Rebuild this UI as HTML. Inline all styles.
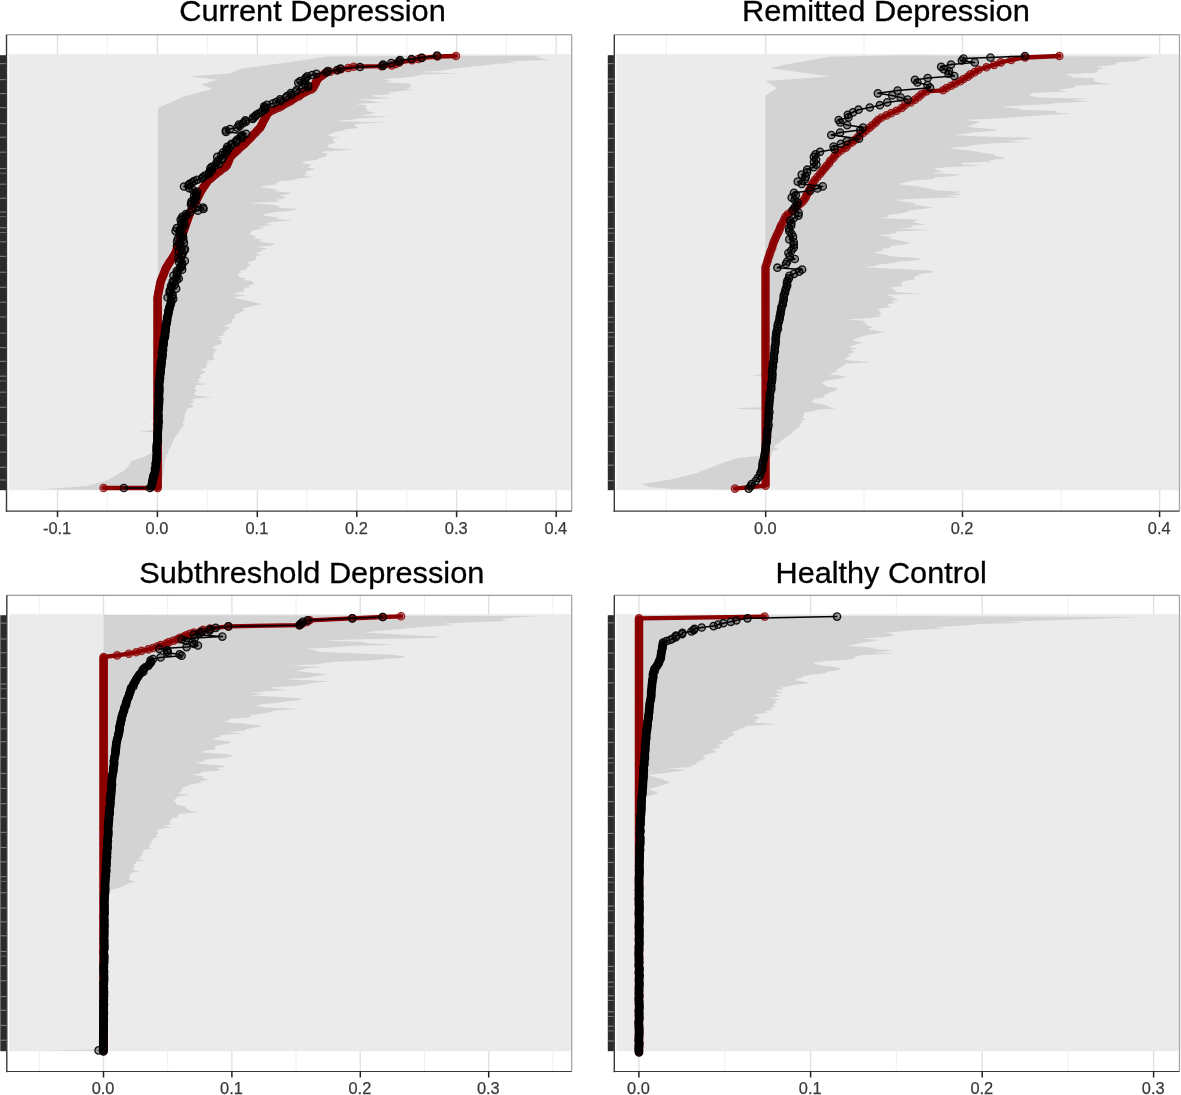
<!DOCTYPE html>
<html><head><meta charset="utf-8"><title>Depression groups</title>
<style>
html,body{margin:0;padding:0;background:#fff;}
svg{display:block;}
.tl{stroke:#3a3a3a;stroke-width:0.25px;font-family:"Liberation Sans",Arial,sans-serif;font-size:16.4px;fill:#3a3a3a;text-anchor:middle;}
.tt{stroke:#000;stroke-width:0.3px;font-family:"Liberation Sans",Arial,sans-serif;font-size:29.5px;fill:#000;}
</style></head><body>
<svg width="1181" height="1095" viewBox="0 0 1181 1095">
<defs>
<marker id="rd" markerUnits="userSpaceOnUse" markerWidth="10" markerHeight="10" refX="5" refY="5" viewBox="0 0 10 10"><circle cx="5" cy="5" r="3.7" fill="#8b0000" fill-opacity="0.5" stroke="#8b0000" stroke-width="1.2" stroke-opacity="0.8"/></marker>
<marker id="bd" markerUnits="userSpaceOnUse" markerWidth="10" markerHeight="10" refX="5" refY="5" viewBox="0 0 10 10"><circle cx="5" cy="5" r="3.7" fill="#000" fill-opacity="0.35" stroke="#000" stroke-width="1.3" stroke-opacity="0.9"/></marker>
</defs>
<rect width="1181" height="1095" fill="#fff"/>
<g><line x1="107.4" y1="34.7" x2="107.4" y2="511.1" stroke="#eeeeee" stroke-width="0.9"/><line x1="207.3" y1="34.7" x2="207.3" y2="511.1" stroke="#eeeeee" stroke-width="0.9"/><line x1="307.0" y1="34.7" x2="307.0" y2="511.1" stroke="#eeeeee" stroke-width="0.9"/><line x1="406.7" y1="34.7" x2="406.7" y2="511.1" stroke="#eeeeee" stroke-width="0.9"/><line x1="506.4" y1="34.7" x2="506.4" y2="511.1" stroke="#eeeeee" stroke-width="0.9"/><line x1="57.5" y1="34.7" x2="57.5" y2="511.1" stroke="#e1e1e1" stroke-width="1.4"/><line x1="157.4" y1="34.7" x2="157.4" y2="511.1" stroke="#e1e1e1" stroke-width="1.4"/><line x1="257.3" y1="34.7" x2="257.3" y2="511.1" stroke="#e1e1e1" stroke-width="1.4"/><line x1="356.8" y1="34.7" x2="356.8" y2="511.1" stroke="#e1e1e1" stroke-width="1.4"/><line x1="456.6" y1="34.7" x2="456.6" y2="511.1" stroke="#e1e1e1" stroke-width="1.4"/><line x1="556.2" y1="34.7" x2="556.2" y2="511.1" stroke="#e1e1e1" stroke-width="1.4"/><rect x="8.7" y="54.2" width="562.6" height="436.0" fill="#ebebeb"/><clipPath id="c0"><rect x="8.7" y="54.2" width="562.6" height="436.0"/></clipPath><polygon points="541.6,55.7 420.0,56.0 327.0,56.5 297.6,61.0 241.7,68.6 230.6,73.3 189.6,76.6 217.5,79.8 200.8,84.5 212.0,89.0 184.0,96.6 167.0,104.0 158.0,108.0 158.0,416.0 148.7,417.0 158.0,418.5 158.0,430.0 139.0,431.0 158.0,433.0 158.0,449.0 146.0,456.0 132.0,461.0 125.0,470.0 108.0,480.0 87.0,486.0 39.5,489.4 158.0,490.0 158.0,488.0 158.8,486.5 159.6,485.0 160.1,483.5 160.5,482.0 161.9,480.5 162.1,479.0 163.0,477.5 162.7,476.0 163.4,474.6 163.8,473.1 163.7,471.7 163.7,470.2 164.1,468.7 164.7,467.3 164.3,465.8 164.8,464.3 164.3,462.9 164.5,461.4 165.1,460.0 165.4,458.5 166.3,457.0 165.7,455.5 167.4,454.0 168.1,452.5 168.4,451.0 168.6,449.5 170.2,448.0 170.8,446.5 171.3,445.0 172.1,443.5 172.5,442.0 173.6,440.6 174.1,439.1 174.3,437.7 175.7,436.2 177.3,434.8 178.0,433.4 179.3,431.9 179.4,430.5 181.0,429.0 182.0,427.6 183.0,426.1 184.1,424.6 182.5,423.1 183.1,421.6 185.4,420.1 183.8,418.5 184.6,417.0 185.1,415.5 184.7,414.0 185.4,412.5 186.7,411.0 186.2,409.6 188.5,408.3 193.0,406.9 192.6,405.6 190.1,404.2 191.7,402.9 194.0,401.5 192.0,400.0 194.6,398.6 213.0,397.1 196.7,395.7 194.6,394.2 194.3,392.7 196.8,391.3 195.7,389.8 194.4,388.3 196.3,386.9 195.1,385.4 206.8,384.0 196.0,382.5 199.7,381.1 197.9,379.6 201.0,378.1 200.8,376.7 200.0,375.2 202.5,373.8 205.3,372.4 204.0,370.9 200.5,369.4 205.7,368.0 206.0,366.6 207.5,365.2 205.1,363.8 209.3,362.4 206.0,361.0 214.5,359.6 214.4,358.2 213.1,356.8 213.1,355.4 213.0,354.0 214.3,352.5 214.9,351.1 217.8,349.6 213.1,348.2 212.6,346.7 216.5,345.2 222.0,343.8 221.1,342.3 222.3,340.8 218.6,339.4 222.1,337.9 217.5,336.5 224.7,335.0 222.9,333.5 224.8,332.1 225.4,330.6 227.5,329.2 230.4,327.7 223.5,326.2 227.2,324.8 230.5,323.3 232.8,321.8 231.9,320.4 233.4,318.9 235.5,317.5 234.0,316.0 235.4,314.6 239.0,313.1 241.2,311.7 244.9,310.2 242.0,308.8 247.2,307.3 253.6,305.9 261.8,304.4 258.0,303.0 251.0,301.5 245.4,300.0 236.3,298.5 234.0,297.0 246.7,295.6 232.8,294.1 236.5,292.7 244.9,291.3 243.2,289.9 244.2,288.4 250.1,287.0 248.1,285.6 254.5,284.1 253.0,282.7 252.6,281.3 243.1,279.9 245.8,278.4 239.2,277.0 239.0,275.6 237.4,274.1 242.0,272.6 239.7,271.1 245.8,269.6 247.5,268.2 247.1,266.7 251.0,265.2 248.5,263.7 247.2,262.2 253.5,260.7 256.4,259.1 255.4,257.6 256.9,256.1 260.2,254.6 255.4,253.0 261.4,251.5 262.0,250.0 268.0,248.5 256.2,247.0 271.5,245.5 275.5,244.1 265.4,242.6 257.9,241.2 263.3,239.7 253.9,238.3 255.8,236.8 253.2,235.4 249.8,233.9 251.0,232.5 251.7,231.0 257.1,229.5 265.3,228.0 258.6,226.5 272.1,225.1 266.7,223.6 271.0,222.1 293.5,220.6 275.3,219.1 279.0,217.6 263.9,215.8 264.0,214.0 275.0,212.3 290.8,210.7 297.6,209.0 278.6,207.5 279.0,206.1 271.5,204.6 249.2,203.1 279.7,201.6 275.9,200.1 283.4,198.6 285.6,197.0 279.4,195.5 290.0,194.0 290.0,192.5 274.7,191.1 277.7,189.8 269.4,188.4 260.0,187.0 266.6,185.6 277.5,184.2 275.6,182.8 280.9,181.3 293.9,179.9 297.6,178.5 313.2,176.9 303.4,175.2 306.5,173.6 305.0,172.0 309.1,170.5 316.0,169.0 307.9,167.5 309.2,166.1 311.6,164.6 302.7,163.2 303.0,161.7 316.5,160.1 318.1,158.4 325.7,156.8 326.2,155.4 328.1,154.0 321.3,152.6 324.1,151.2 354.4,149.8 335.0,148.4 327.0,147.0 328.2,145.6 329.1,144.2 336.6,142.9 333.0,141.5 333.7,140.1 330.9,138.8 340.7,137.4 327.6,136.1 329.3,134.7 331.1,133.4 335.0,132.0 343.4,130.6 345.4,129.3 358.3,127.9 355.5,126.5 354.8,125.2 356.0,123.8 385.4,122.4 333.1,121.0 353.0,119.6 359.0,118.2 391.3,116.8 359.0,115.5 370.2,114.1 375.5,112.7 368.1,111.3 366.0,109.9 367.6,108.5 363.3,107.0 367.8,105.5 354.9,104.0 382.7,102.5 371.0,101.0 356.7,99.6 394.0,98.2 374.7,96.8 372.4,95.4 391.1,94.0 387.4,92.6 397.7,91.2 412.8,89.8 405.2,88.4 412.0,87.0 409.8,85.4 411.3,83.8 384.9,82.2 391.7,80.6 381.9,79.2 402.7,77.7 415.6,76.3 420.0,74.8 458.0,73.4 419.4,71.9 442.5,70.5 451.3,68.9 465.2,67.2 482.3,65.6 496.0,64.0 517.3,62.6 508.0,61.2 548.8,59.9 542.5,58.5 535.2,57.1 541.6,55.7" fill="#d3d3d3" clip-path="url(#c0)"/><polyline points="456.0,56.0 437.5,56.5 422.2,57.8 418.3,59.0 412.0,60.3 399.4,62.4 395.9,63.9 391.8,65.4 381.6,66.2 353.7,66.7 348.3,68.0 341.0,69.2 337.1,70.5 330.1,71.7 325.7,73.0 323.9,74.3 322.3,75.5 320.4,76.8 318.1,78.1 317.4,79.6 316.5,81.0 315.9,82.5 315.4,83.9 314.3,85.4 313.7,86.8 313.0,88.3 311.1,89.6 307.9,90.8 305.4,92.1 302.6,93.5 300.4,94.9 298.7,96.4 295.6,97.8 293.3,99.2 291.2,100.6 289.0,102.0 286.2,103.4 283.3,104.9 281.5,106.3 279.0,107.7 275.5,109.0 272.8,110.3 270.1,111.7 267.8,113.0 267.1,114.5 266.2,116.0 265.5,117.5 264.6,119.0 263.8,120.5 262.9,122.0 262.4,123.5 261.7,125.0 260.7,126.5 260.0,128.0 258.4,129.5 256.8,131.0 255.8,132.5 254.1,134.0 252.5,135.5 251.4,137.0 249.9,138.5 248.4,140.0 246.7,141.5 245.5,143.0 244.0,144.4 242.2,145.9 240.5,147.3 238.6,148.8 237.6,150.2 235.9,151.7 234.1,153.1 232.7,154.6 230.6,156.0 230.1,157.4 229.5,158.7 228.9,160.1 228.5,161.4 227.9,162.8 227.3,164.1 226.8,165.5 225.4,167.0 223.4,168.5 220.8,170.0 219.6,171.5 216.9,172.9 215.7,174.4 213.5,175.9 212.0,177.4 210.3,178.9 208.0,180.4 207.1,181.8 206.3,183.2 205.1,184.6 204.5,185.9 203.3,187.3 202.6,188.7 201.6,190.1 200.8,191.5 199.9,192.9 199.5,194.3 198.6,195.7 197.9,197.1 197.2,198.5 196.7,199.9 195.8,201.3 195.0,202.8 194.3,204.2 193.7,205.6 193.1,207.0 192.2,208.4 191.5,209.8 191.1,211.2 190.3,212.6 189.6,214.0 189.0,215.4 188.5,216.9 188.0,218.3 187.5,219.7 187.0,221.2 186.5,222.6 186.0,224.0 185.5,225.5 185.0,226.9 184.5,228.3 184.1,229.8 183.5,231.2 183.0,232.6 182.3,234.0 181.9,235.5 181.5,236.9 180.9,238.3 180.5,239.8 180.0,241.2 179.4,242.6 178.9,244.1 178.4,245.5 177.8,246.9 177.3,248.3 176.6,249.8 176.1,251.2 175.7,252.6 175.0,254.0 174.0,255.4 173.4,256.8 172.3,258.2 171.6,259.6 170.5,261.0 169.4,262.4 168.7,263.8 167.7,265.2 167.1,266.6 166.0,268.0 165.5,269.4 164.9,270.8 164.5,272.2 163.8,273.6 163.4,275.0 162.8,276.4 162.1,277.8 161.5,279.2 161.1,280.6 160.5,282.0 160.2,283.5 160.0,285.0 159.6,286.5 159.4,288.0 159.1,289.5 158.7,291.0 158.5,292.5 158.2,294.0 157.9,295.5 157.6,297.0 157.6,298.4 157.6,299.9 157.6,301.3 157.6,302.8 157.6,304.2 157.6,305.7 157.6,307.1 157.6,308.6 157.6,310.0 157.6,311.5 157.6,312.9 157.6,314.4 157.6,315.8 157.6,317.3 157.6,318.7 157.6,320.2 157.6,321.6 157.6,323.0 157.6,324.5 157.6,325.9 157.6,327.4 157.6,328.8 157.6,330.3 157.6,331.7 157.6,333.2 157.6,334.6 157.6,336.1 157.6,337.5 157.6,339.0 157.6,340.4 157.6,341.9 157.6,343.3 157.6,344.8 157.6,346.2 157.6,347.6 157.6,349.1 157.6,350.5 157.6,352.0 157.6,353.4 157.6,354.9 157.6,356.3 157.6,357.8 157.6,359.2 157.6,360.7 157.6,362.1 157.6,363.6 157.6,365.0 157.6,366.5 157.6,367.9 157.6,369.3 157.6,370.8 157.6,372.2 157.6,373.7 157.6,375.1 157.6,376.6 157.6,378.0 157.6,379.5 157.6,380.9 157.6,382.4 157.6,383.8 157.6,385.3 157.6,386.7 157.6,388.2 157.6,389.6 157.6,391.1 157.6,392.5 157.6,393.9 157.6,395.4 157.6,396.8 157.6,398.3 157.6,399.7 157.6,401.2 157.6,402.6 157.6,404.1 157.6,405.5 157.6,407.0 157.6,408.4 157.6,409.9 157.6,411.3 157.6,412.8 157.6,414.2 157.6,415.7 157.6,417.1 157.6,418.5 157.6,420.0 157.6,421.4 157.6,422.9 157.6,424.3 157.6,425.8 157.6,427.2 157.6,428.7 157.6,430.1 157.6,431.6 157.6,433.0 157.6,434.5 157.6,435.9 157.6,437.4 157.6,438.8 157.6,440.2 157.6,441.7 157.6,443.1 157.6,444.6 157.6,446.0 157.6,447.5 157.6,448.9 157.6,450.4 157.6,451.8 157.6,453.3 157.6,454.7 157.6,456.2 157.6,457.6 157.6,459.1 157.6,460.5 157.6,462.0 157.6,463.4 157.6,464.8 157.6,466.3 157.6,467.7 157.6,469.2 157.6,470.6 157.6,472.1 157.6,473.5 157.6,475.0 157.6,476.4 157.6,477.9 157.6,479.3 157.6,480.8 157.6,482.2 157.6,483.7 157.6,485.1 157.6,486.6 157.6,488.0 103.6,488.0" fill="none" stroke="#8b0000" stroke-width="4.3" stroke-linejoin="round" stroke-linecap="round" marker-start="url(#rd)" marker-mid="url(#rd)" marker-end="url(#rd)"/><polyline points="437.0,55.7 421.5,57.8 411.5,59.0 400.0,60.2 399.0,61.6 391.3,63.0 383.2,64.5 382.9,65.9 360.0,67.0 340.5,68.7 337.4,70.0 327.8,71.2 326.2,72.5 316.5,73.8 312.2,75.0 307.4,76.3 305.7,77.9 304.9,79.5 300.4,81.1 298.3,82.7 304.8,84.1 308.0,85.6 308.0,87.0 302.0,88.5 296.7,90.0 296.0,91.5 290.8,93.1 291.6,94.7 287.0,96.2 285.7,97.8 280.0,99.4 280.8,100.8 276.1,102.2 272.7,103.6 267.0,104.9 264.2,106.3 265.0,107.7 265.3,109.2 262.6,110.6 261.4,112.1 258.3,113.5 256.0,115.0 255.2,116.3 253.0,117.7 252.8,119.0 245.3,120.4 246.0,121.7 243.1,123.2 239.0,124.6 239.7,126.1 237.2,127.6 230.0,129.1 225.9,130.5 226.0,132.0 246.0,133.8 242.2,135.2 240.7,136.7 241.9,138.1 237.4,139.6 236.0,141.0 236.1,142.4 231.4,143.9 231.3,145.3 227.3,146.8 228.9,148.2 226.3,149.6 227.2,151.1 223.0,152.5 225.3,153.9 221.4,155.4 217.3,156.8 222.5,158.3 221.7,159.7 217.5,161.2 216.7,162.6 218.9,164.1 215.0,165.5 211.8,166.9 210.4,168.4 212.0,169.8 210.4,171.3 209.1,172.7 208.6,174.2 205.0,175.6 202.9,177.1 202.0,178.5 197.1,179.8 194.0,181.2 192.1,182.5 189.5,183.8 188.7,185.2 184.0,186.5 189.2,188.2 192.7,189.8 197.0,191.5 195.5,193.0 196.5,194.4 194.2,195.9 196.4,197.3 194.7,198.8 194.4,200.2 191.4,201.7 191.8,203.1 191.0,204.6 197.0,206.1 203.1,207.5 203.5,209.0 198.0,210.7 190.0,212.3 186.0,214.0 186.8,215.4 182.3,216.8 183.3,218.3 180.7,219.7 183.9,221.1 181.3,222.5 181.7,224.0 184.6,225.4 182.7,226.8 176.8,228.2 180.0,229.7 175.6,231.1 179.5,232.5 182.6,234.0 179.8,235.5 183.1,237.0 178.0,238.5 183.2,239.9 177.1,241.4 183.9,242.9 179.7,244.4 177.0,245.9 181.0,247.4 184.9,248.9 184.4,250.4 178.8,252.0 182.5,253.5 182.0,255.0 181.4,256.5 178.1,257.9 180.3,259.4 184.8,260.9 179.2,262.3 182.2,263.8 181.9,265.3 181.6,266.7 179.8,268.2 182.1,269.7 176.7,271.1 177.6,272.6 177.0,274.1 173.5,275.5 176.6,277.0 178.7,278.5 176.7,279.9 172.8,281.4 173.0,282.9 174.8,284.3 171.1,285.8 171.6,287.3 176.1,288.7 170.0,290.2 169.7,291.7 169.8,293.1 172.5,294.6 172.3,296.0 167.6,297.5 173.2,298.9 171.3,300.3 171.2,301.7 170.9,303.2 170.5,304.6 170.0,306.0 169.4,307.4 169.4,308.9 168.6,310.3 168.4,311.7 168.5,313.1 168.1,314.6 167.7,316.0 167.1,317.5 167.2,319.0 167.1,320.4 166.5,321.9 166.7,323.4 166.0,324.9 165.8,326.3 165.8,327.8 165.5,329.3 165.7,330.8 165.2,332.2 164.8,333.7 165.1,335.2 164.9,336.7 164.6,338.1 163.7,339.6 163.7,341.1 163.3,342.6 163.7,344.0 163.2,345.5 163.0,347.0 162.4,348.5 163.1,350.0 162.1,351.4 161.9,352.9 162.7,354.4 162.1,355.9 162.3,357.4 161.9,358.8 161.3,360.3 161.5,361.8 161.6,363.3 160.7,364.8 161.3,366.2 160.8,367.7 160.8,369.2 160.4,370.7 160.7,372.1 160.3,373.6 160.1,375.1 159.6,376.6 160.1,378.1 159.4,379.5 159.7,381.0 159.4,382.5 158.9,383.9 158.9,385.4 159.4,386.8 159.0,388.3 159.3,389.7 159.3,391.1 159.0,392.6 159.1,394.0 158.9,395.5 158.5,396.9 159.3,398.3 158.9,399.8 159.2,401.2 158.9,402.7 158.9,404.1 158.3,405.5 158.8,407.0 158.6,408.4 158.4,409.8 158.2,411.3 158.2,412.7 158.0,414.2 158.6,415.6 158.3,417.0 158.0,418.5 158.4,419.9 158.6,421.4 158.6,422.8 157.7,424.2 158.2,425.7 158.2,427.1 158.0,428.6 158.0,430.0 157.8,431.4 157.8,432.8 157.6,434.3 157.6,435.7 157.3,437.1 157.7,438.5 157.8,440.0 157.8,441.4 157.2,442.8 156.9,444.2 156.9,445.7 156.6,447.1 157.1,448.5 156.5,449.9 156.8,451.4 157.1,452.8 156.8,454.2 156.7,455.6 156.7,457.1 156.5,458.5 156.6,459.9 156.4,461.3 155.9,462.8 155.7,464.2 156.0,465.6 156.1,467.1 155.0,468.5 155.1,470.0 155.1,471.4 154.8,472.9 154.4,474.4 153.4,475.8 153.1,477.3 153.3,478.8 152.5,480.2 152.3,481.7 152.1,483.1 152.0,484.6 151.5,486.3 150.0,488.0 123.8,488.0" fill="none" stroke="#000" stroke-width="1.5" stroke-linejoin="round" marker-start="url(#bd)" marker-mid="url(#bd)" marker-end="url(#bd)"/><line x1="6.5" y1="34.7" x2="571.7" y2="34.7" stroke="#858585" stroke-width="1.1"/><line x1="571.7" y1="34.7" x2="571.7" y2="511.1" stroke="#a6a6a6" stroke-width="1.3"/><line x1="6.5" y1="34.7" x2="6.5" y2="511.8" stroke="#3a3a3a" stroke-width="1.4"/><line x1="5.8" y1="511.1" x2="571.7" y2="511.1" stroke="#3a3a3a" stroke-width="1.2"/><rect x="0.0" y="55.2" width="6.1" height="435.0" fill="#2b2b2b"/><rect x="0.0" y="63.1" width="6.1" height="1.1" fill="#7d7d7d"/><rect x="0.0" y="79.1" width="6.1" height="1.1" fill="#7d7d7d"/><rect x="0.0" y="93.0" width="6.1" height="1.1" fill="#7d7d7d"/><rect x="0.0" y="107.1" width="6.1" height="1.1" fill="#7d7d7d"/><rect x="0.0" y="123.1" width="6.1" height="1.1" fill="#7d7d7d"/><rect x="0.0" y="136.7" width="6.1" height="1.1" fill="#7d7d7d"/><rect x="0.0" y="151.6" width="6.1" height="1.1" fill="#7d7d7d"/><rect x="0.0" y="168.0" width="6.1" height="1.1" fill="#7d7d7d"/><rect x="0.0" y="172.8" width="6.1" height="1" fill="#6a6a6a"/><rect x="0.0" y="183.6" width="6.1" height="1.1" fill="#7d7d7d"/><rect x="0.0" y="197.7" width="6.1" height="1.1" fill="#7d7d7d"/><rect x="0.0" y="211.4" width="6.1" height="1.1" fill="#7d7d7d"/><rect x="0.0" y="216.2" width="6.1" height="1" fill="#6a6a6a"/><rect x="0.0" y="227.2" width="6.1" height="1.1" fill="#7d7d7d"/><rect x="0.0" y="232.0" width="6.1" height="1" fill="#6a6a6a"/><rect x="0.0" y="241.3" width="6.1" height="1.1" fill="#7d7d7d"/><rect x="0.0" y="255.8" width="6.1" height="1.1" fill="#7d7d7d"/><rect x="0.0" y="271.7" width="6.1" height="1.1" fill="#7d7d7d"/><rect x="0.0" y="286.7" width="6.1" height="1.1" fill="#7d7d7d"/><rect x="0.0" y="301.6" width="6.1" height="1.1" fill="#7d7d7d"/><rect x="0.0" y="316.4" width="6.1" height="1.1" fill="#7d7d7d"/><rect x="0.0" y="332.6" width="6.1" height="1.1" fill="#7d7d7d"/><rect x="0.0" y="347.1" width="6.1" height="1.1" fill="#7d7d7d"/><rect x="0.0" y="360.8" width="6.1" height="1.1" fill="#7d7d7d"/><rect x="0.0" y="375.6" width="6.1" height="1.1" fill="#7d7d7d"/><rect x="0.0" y="380.4" width="6.1" height="1" fill="#6a6a6a"/><rect x="0.0" y="391.6" width="6.1" height="1.1" fill="#7d7d7d"/><rect x="0.0" y="406.7" width="6.1" height="1.1" fill="#7d7d7d"/><rect x="0.0" y="421.9" width="6.1" height="1.1" fill="#7d7d7d"/><rect x="0.0" y="434.5" width="6.1" height="1.1" fill="#7d7d7d"/><rect x="0.0" y="451.6" width="6.1" height="1.1" fill="#7d7d7d"/><rect x="0.0" y="466.7" width="6.1" height="1.1" fill="#7d7d7d"/><rect x="0.0" y="479.4" width="6.1" height="1.1" fill="#7d7d7d"/><line x1="57.5" y1="511.1" x2="57.5" y2="517.1" stroke="#222" stroke-width="1.5"/><text x="57.1" y="533.7" class="tl">-0.1</text><line x1="157.4" y1="511.1" x2="157.4" y2="517.1" stroke="#222" stroke-width="1.5"/><text x="157.0" y="533.7" class="tl">0.0</text><line x1="257.3" y1="511.1" x2="257.3" y2="517.1" stroke="#222" stroke-width="1.5"/><text x="256.9" y="533.7" class="tl">0.1</text><line x1="356.8" y1="511.1" x2="356.8" y2="517.1" stroke="#222" stroke-width="1.5"/><text x="356.4" y="533.7" class="tl">0.2</text><line x1="456.6" y1="511.1" x2="456.6" y2="517.1" stroke="#222" stroke-width="1.5"/><text x="456.2" y="533.7" class="tl">0.3</text><line x1="556.2" y1="511.1" x2="556.2" y2="517.1" stroke="#222" stroke-width="1.5"/><text x="555.8" y="533.7" class="tl">0.4</text><text x="179.2" y="21.2" class="tt" textLength="266.6" lengthAdjust="spacingAndGlyphs">Current Depression</text></g>
<g><line x1="666.4" y1="34.7" x2="666.4" y2="511.1" stroke="#eeeeee" stroke-width="0.9"/><line x1="864.0" y1="34.7" x2="864.0" y2="511.1" stroke="#eeeeee" stroke-width="0.9"/><line x1="1061.0" y1="34.7" x2="1061.0" y2="511.1" stroke="#eeeeee" stroke-width="0.9"/><line x1="765.7" y1="34.7" x2="765.7" y2="511.1" stroke="#e1e1e1" stroke-width="1.4"/><line x1="962.5" y1="34.7" x2="962.5" y2="511.1" stroke="#e1e1e1" stroke-width="1.4"/><line x1="1159.6" y1="34.7" x2="1159.6" y2="511.1" stroke="#e1e1e1" stroke-width="1.4"/><rect x="616.5" y="54.2" width="562.6" height="436.0" fill="#ebebeb"/><clipPath id="c1"><rect x="616.5" y="54.2" width="562.6" height="436.0"/></clipPath><polygon points="1153.6,56.8 900.0,55.3 829.5,56.8 788.5,64.0 770.0,68.0 829.5,76.5 765.3,81.0 777.0,87.7 765.3,96.0 765.3,374.0 751.7,375.2 765.3,376.5 765.3,407.0 733.5,408.5 765.3,410.0 765.3,455.0 738.0,458.0 722.8,462.7 695.4,473.4 671.0,479.5 642.0,484.0 649.6,487.0 671.0,489.0 766.0,490.0 766.0,475.0 766.3,473.6 766.6,472.2 767.0,470.8 767.3,469.3 767.7,467.9 768.0,466.5 768.5,465.1 768.5,463.7 769.9,462.2 769.6,460.8 769.9,459.4 770.0,458.0 770.6,456.5 771.3,455.0 771.7,453.5 772.1,452.0 773.1,450.5 779.1,449.0 774.1,447.5 774.6,446.0 776.9,444.5 779.2,442.9 780.4,441.4 782.1,439.9 784.8,438.3 786.8,436.8 789.0,435.3 792.7,433.8 791.5,432.2 795.3,430.7 794.8,429.2 799.0,427.7 799.6,426.3 799.8,424.9 800.3,423.5 803.2,422.1 800.0,420.7 805.9,419.4 802.6,418.0 803.4,416.6 803.9,415.2 803.8,413.8 805.0,412.4 814.9,411.1 817.2,409.8 835.6,408.5 829.3,407.2 827.5,405.8 823.6,404.5 814.8,403.1 811.2,401.8 813.0,400.3 815.8,398.7 824.8,397.2 823.8,395.6 827.2,394.1 829.4,392.5 835.6,391.0 835.8,389.5 838.1,388.0 826.6,386.5 825.0,385.0 822.2,383.5 823.4,382.0 826.3,380.5 839.0,378.9 843.8,377.4 844.7,375.9 829.5,374.3 833.4,372.8 836.9,371.3 836.4,369.8 839.4,368.2 841.2,366.7 844.4,365.2 844.7,363.7 870.5,362.2 849.7,360.6 844.8,359.1 846.5,357.6 851.1,356.1 847.8,354.6 852.1,353.0 853.9,351.5 850.5,350.0 857.5,348.4 849.1,346.9 852.4,345.4 857.5,343.9 862.9,342.4 853.6,340.8 853.9,339.3 858.6,337.8 862.0,336.2 870.1,334.7 878.2,333.2 885.0,331.7 871.1,330.1 867.7,328.6 874.4,327.1 865.5,325.6 867.5,324.0 863.0,322.5 866.1,321.0 847.1,319.4 871.7,317.9 881.3,316.4 878.7,314.9 880.8,313.4 880.8,311.8 878.6,310.3 878.2,308.8 890.5,307.3 888.2,305.7 887.8,304.2 895.8,302.7 890.9,301.1 899.6,299.6 893.1,298.1 892.1,296.6 885.9,295.1 920.6,293.5 894.3,292.0 896.5,290.5 892.9,289.0 890.5,287.4 902.2,285.9 900.7,284.4 902.5,282.8 902.6,281.3 913.5,279.8 914.5,278.3 914.0,276.8 918.2,275.2 921.2,273.7 933.1,272.2 933.0,270.7 899.3,269.0 863.0,267.3 874.8,265.9 879.0,264.5 893.4,263.1 896.3,261.8 914.3,260.4 922.6,259.0 914.9,257.7 892.2,256.4 887.0,255.0 879.9,253.7 872.3,252.4 884.1,250.8 880.9,249.3 889.6,247.7 891.0,246.1 904.4,244.6 911.4,243.0 904.6,241.5 898.2,240.0 887.3,238.6 892.0,237.1 877.9,235.6 888.1,234.2 897.8,232.8 893.1,231.4 932.0,230.0 899.0,228.6 913.5,227.2 910.4,225.8 926.0,224.4 915.0,222.8 914.0,221.3 918.2,219.7 881.1,218.1 888.9,216.6 887.0,215.0 900.5,213.5 906.7,212.1 909.6,210.6 920.0,209.2 933.7,207.7 923.9,206.2 914.1,204.6 916.0,203.1 902.3,201.5 896.5,200.0 915.1,198.7 960.0,197.3 946.4,195.9 963.5,194.6 953.6,193.2 962.2,191.8 938.1,190.4 930.9,189.0 923.2,187.6 917.9,186.2 901.7,184.8 900.0,183.4 906.1,181.9 913.5,180.4 934.0,179.0 933.7,177.5 952.4,176.0 960.4,174.5 931.5,173.0 943.8,171.5 937.1,170.0 933.7,168.5 948.8,167.1 981.4,165.7 961.8,164.3 961.8,162.9 992.2,161.6 988.7,160.2 1003.8,158.8 1004.5,157.4 994.5,155.8 994.6,154.3 982.8,152.7 973.5,151.1 959.9,149.6 948.6,148.0 967.4,146.5 973.4,145.0 989.3,143.5 1023.4,142.1 1006.3,140.6 1032.8,139.1 1027.0,137.6 975.0,136.3 952.4,135.0 967.9,133.6 973.4,132.2 995.7,130.8 997.0,129.4 975.4,127.8 966.4,126.3 972.6,124.7 977.7,123.1 979.7,121.6 963.5,120.0 997.6,118.5 1018.2,116.9 1042.0,115.3 1071.6,113.8 1055.3,112.4 1056.0,111.1 1019.8,109.7 1018.2,108.4 1001.0,107.0 1018.1,105.6 1047.1,104.2 1058.2,102.9 1090.0,101.5 1072.2,100.1 1090.3,98.8 1039.4,97.4 1030.6,96.0 1029.8,94.5 1032.7,93.0 1067.5,91.4 1057.9,89.9 1068.0,88.4 1075.0,86.9 1075.0,85.5 1116.0,84.0 1099.6,82.7 1094.8,81.3 1092.9,80.0 1094.9,78.6 1071.6,77.3 1071.2,75.8 1064.4,74.3 1097.0,72.8 1097.3,71.3 1097.7,69.8 1104.0,68.3 1096.6,66.8 1109.5,65.4 1117.3,63.9 1116.0,62.4 1137.1,61.0 1140.8,59.6 1144.7,58.2 1153.6,56.8" fill="#d3d3d3" clip-path="url(#c1)"/><polyline points="1059.3,56.0 1025.0,57.5 1011.2,60.0 1000.8,62.4 994.1,64.9 986.4,67.3 978.5,69.8 974.7,72.1 970.4,74.4 967.8,76.7 963.5,79.0 960.1,81.3 955.3,83.5 951.2,85.8 946.5,88.0 943.0,90.3 926.3,91.4 921.7,94.1 918.5,96.9 915.0,99.6 910.6,102.4 904.9,105.2 901.7,108.0 896.5,110.8 891.2,113.1 886.5,115.4 881.4,117.7 877.9,120.0 875.6,122.6 872.3,125.2 869.5,127.8 866.1,130.4 863.0,133.0 859.5,135.4 857.1,137.8 854.6,140.1 851.8,142.5 847.8,145.1 845.8,147.7 841.5,150.3 837.8,152.9 835.0,155.5 833.2,158.1 830.3,160.8 829.0,163.4 826.4,166.1 824.3,168.7 822.0,171.4 820.0,174.0 817.4,177.0 814.9,180.0 813.3,182.5 811.8,185.0 811.0,187.5 809.2,190.1 808.2,192.6 806.5,195.1 805.6,197.6 803.9,200.1 801.8,202.4 799.1,204.8 796.5,207.1 793.6,209.5 791.2,211.8 787.8,214.2 785.7,216.5 784.3,219.2 783.2,222.0 781.4,224.8 780.2,227.5 779.4,229.9 778.3,232.4 777.0,234.8 775.9,237.2 774.8,239.7 773.8,242.1 772.8,244.8 772.2,247.6 771.0,250.3 769.9,253.1 769.2,255.8 768.1,258.6 767.4,261.3 766.6,264.1 765.5,266.8 765.5,269.3 765.5,271.8 765.5,274.3 765.5,276.7 765.5,279.2 765.5,281.7 765.5,284.2 765.5,286.7 765.5,289.2 765.5,291.7 765.5,294.2 765.5,296.6 765.5,299.1 765.5,301.6 765.5,304.1 765.5,306.6 765.5,309.1 765.5,311.6 765.5,314.0 765.5,316.5 765.5,319.0 765.5,321.5 765.5,324.0 765.5,326.5 765.5,329.0 765.5,331.4 765.5,333.9 765.5,336.4 765.5,338.9 765.5,341.4 765.5,343.9 765.5,346.4 765.5,348.9 765.5,351.3 765.5,353.8 765.5,356.3 765.5,358.8 765.5,361.3 765.5,363.8 765.5,366.3 765.5,368.7 765.5,371.2 765.5,373.7 765.5,376.2 765.6,378.7 765.6,381.2 765.6,383.7 765.6,386.1 765.6,388.6 765.6,391.1 765.6,393.6 765.6,396.1 765.6,398.6 765.6,401.1 765.6,403.6 765.6,406.0 765.6,408.5 765.6,411.0 765.6,413.5 765.6,416.0 765.6,418.5 765.6,421.0 765.6,423.4 765.6,425.9 765.6,428.4 765.6,430.9 765.6,433.4 765.6,435.9 765.6,438.4 765.6,440.8 765.6,443.3 765.6,445.8 765.6,448.3 765.6,450.8 765.6,453.3 765.6,455.8 765.6,458.2 765.6,460.7 765.6,463.2 765.6,465.7 765.6,468.2 765.6,470.7 765.6,473.2 765.6,475.7 765.6,478.1 765.6,480.6 765.6,483.1 765.6,485.6 735.0,488.6" fill="none" stroke="#8b0000" stroke-width="4.3" stroke-linejoin="round" stroke-linecap="round" marker-start="url(#rd)" marker-mid="url(#rd)" marker-end="url(#rd)"/><polyline points="1025.0,56.0 990.4,57.5 963.5,58.6 961.9,60.5 974.7,62.4 951.0,64.6 941.2,66.8 943.7,69.1 949.1,71.4 948.5,73.7 954.3,76.0 927.7,78.0 915.0,79.9 917.4,82.5 927.5,85.1 930.0,87.7 897.6,90.5 877.9,93.3 892.2,95.4 900.7,97.5 907.7,99.6 887.2,102.4 879.8,105.2 869.8,107.5 858.5,109.7 853.0,112.3 847.8,114.8 848.4,117.4 838.7,120.0 840.3,122.5 847.2,125.1 863.0,127.6 860.3,130.1 840.1,132.5 831.3,135.0 859.0,138.7 846.7,141.3 840.9,143.9 833.6,146.6 834.6,149.2 820.0,151.8 815.5,154.4 813.9,156.9 816.0,159.5 814.0,162.1 816.4,164.6 813.6,167.2 807.2,169.7 807.0,172.3 801.7,174.6 805.7,176.9 804.9,179.3 797.7,181.6 801.7,184.0 822.7,186.4 817.4,188.5 810.2,190.7 794.0,192.8 795.8,195.2 791.7,197.6 794.8,200.0 797.8,202.5 797.1,204.9 794.8,207.4 792.9,210.1 798.6,212.9 798.4,215.6 793.8,218.1 790.2,220.6 791.3,223.2 791.1,225.7 789.1,228.4 789.3,231.2 791.5,233.9 793.0,236.7 789.3,239.4 793.7,242.1 793.7,244.8 793.7,247.6 791.5,250.3 788.4,253.0 789.7,256.0 794.8,259.0 787.2,261.5 786.0,264.0 777.4,267.7 802.1,269.5 799.1,271.6 794.0,273.8 789.3,275.9 788.9,278.3 787.4,280.8 786.9,283.2 787.2,285.6 786.1,288.1 785.3,290.5 785.0,292.9 783.8,295.2 783.7,297.6 783.7,300.0 782.9,302.3 782.8,304.7 781.4,307.1 781.2,309.4 780.7,311.8 780.5,314.2 779.7,316.7 779.6,319.1 778.9,321.6 778.0,324.0 777.5,326.4 777.9,328.9 776.6,331.3 776.2,333.8 776.0,336.2 775.6,338.7 775.7,341.3 775.6,343.8 775.0,346.4 774.7,348.9 774.8,351.4 774.0,354.0 773.9,356.5 773.9,359.1 773.6,361.6 772.8,364.2 773.0,366.7 772.4,369.2 772.1,371.8 772.5,374.3 772.2,376.8 772.2,379.3 771.8,381.9 771.0,384.4 771.3,386.9 771.2,389.4 770.3,391.9 769.8,394.5 770.0,397.0 769.7,399.6 769.4,402.1 769.2,404.6 768.9,407.2 768.8,409.8 769.4,412.3 768.4,414.9 768.8,417.4 768.2,420.0 768.0,422.5 768.5,425.1 768.0,427.6 767.5,430.0 767.1,432.4 767.1,434.7 767.1,437.1 766.6,439.5 766.7,441.9 766.0,444.2 765.8,446.6 765.5,449.0 765.3,451.6 764.6,454.2 764.4,456.8 763.7,459.5 762.9,462.1 762.5,464.7 762.4,467.3 761.9,470.0 760.6,472.6 759.9,475.3 757.8,478.0 755.7,481.0 751.7,484.0 750.5,486.3 748.7,488.6" fill="none" stroke="#000" stroke-width="1.5" stroke-linejoin="round" marker-start="url(#bd)" marker-mid="url(#bd)" marker-end="url(#bd)"/><line x1="614.3" y1="34.7" x2="1179.5" y2="34.7" stroke="#858585" stroke-width="1.1"/><line x1="1179.5" y1="34.7" x2="1179.5" y2="511.1" stroke="#a6a6a6" stroke-width="1.3"/><line x1="614.3" y1="34.7" x2="614.3" y2="511.8" stroke="#3a3a3a" stroke-width="1.4"/><line x1="613.6" y1="511.1" x2="1179.5" y2="511.1" stroke="#3a3a3a" stroke-width="1.2"/><rect x="607.8" y="55.2" width="6.1" height="435.0" fill="#2b2b2b"/><rect x="607.8" y="63.1" width="6.1" height="1.1" fill="#7d7d7d"/><rect x="607.8" y="78.5" width="6.1" height="1.1" fill="#7d7d7d"/><rect x="607.8" y="83.3" width="6.1" height="1" fill="#6a6a6a"/><rect x="607.8" y="91.8" width="6.1" height="1.1" fill="#7d7d7d"/><rect x="607.8" y="107.4" width="6.1" height="1.1" fill="#7d7d7d"/><rect x="607.8" y="123.3" width="6.1" height="1.1" fill="#7d7d7d"/><rect x="607.8" y="137.8" width="6.1" height="1.1" fill="#7d7d7d"/><rect x="607.8" y="151.7" width="6.1" height="1.1" fill="#7d7d7d"/><rect x="607.8" y="166.7" width="6.1" height="1.1" fill="#7d7d7d"/><rect x="607.8" y="181.3" width="6.1" height="1.1" fill="#7d7d7d"/><rect x="607.8" y="196.3" width="6.1" height="1.1" fill="#7d7d7d"/><rect x="607.8" y="211.8" width="6.1" height="1.1" fill="#7d7d7d"/><rect x="607.8" y="227.9" width="6.1" height="1.1" fill="#7d7d7d"/><rect x="607.8" y="232.7" width="6.1" height="1" fill="#6a6a6a"/><rect x="607.8" y="240.9" width="6.1" height="1.1" fill="#7d7d7d"/><rect x="607.8" y="256.9" width="6.1" height="1.1" fill="#7d7d7d"/><rect x="607.8" y="261.7" width="6.1" height="1" fill="#6a6a6a"/><rect x="607.8" y="273.0" width="6.1" height="1.1" fill="#7d7d7d"/><rect x="607.8" y="285.8" width="6.1" height="1.1" fill="#7d7d7d"/><rect x="607.8" y="300.7" width="6.1" height="1.1" fill="#7d7d7d"/><rect x="607.8" y="316.8" width="6.1" height="1.1" fill="#7d7d7d"/><rect x="607.8" y="321.6" width="6.1" height="1" fill="#6a6a6a"/><rect x="607.8" y="331.9" width="6.1" height="1.1" fill="#7d7d7d"/><rect x="607.8" y="336.7" width="6.1" height="1" fill="#6a6a6a"/><rect x="607.8" y="345.5" width="6.1" height="1.1" fill="#7d7d7d"/><rect x="607.8" y="361.0" width="6.1" height="1.1" fill="#7d7d7d"/><rect x="607.8" y="376.3" width="6.1" height="1.1" fill="#7d7d7d"/><rect x="607.8" y="390.7" width="6.1" height="1.1" fill="#7d7d7d"/><rect x="607.8" y="395.5" width="6.1" height="1" fill="#6a6a6a"/><rect x="607.8" y="406.4" width="6.1" height="1.1" fill="#7d7d7d"/><rect x="607.8" y="421.9" width="6.1" height="1.1" fill="#7d7d7d"/><rect x="607.8" y="435.4" width="6.1" height="1.1" fill="#7d7d7d"/><rect x="607.8" y="451.1" width="6.1" height="1.1" fill="#7d7d7d"/><rect x="607.8" y="464.6" width="6.1" height="1.1" fill="#7d7d7d"/><rect x="607.8" y="480.1" width="6.1" height="1.1" fill="#7d7d7d"/><line x1="765.7" y1="511.1" x2="765.7" y2="517.1" stroke="#222" stroke-width="1.5"/><text x="765.3" y="533.7" class="tl">0.0</text><line x1="962.5" y1="511.1" x2="962.5" y2="517.1" stroke="#222" stroke-width="1.5"/><text x="962.1" y="533.7" class="tl">0.2</text><line x1="1159.6" y1="511.1" x2="1159.6" y2="517.1" stroke="#222" stroke-width="1.5"/><text x="1159.2" y="533.7" class="tl">0.4</text><text x="742.1" y="21.2" class="tt" textLength="287.7" lengthAdjust="spacingAndGlyphs">Remitted Depression</text></g>
<g><line x1="39.3" y1="595.2" x2="39.3" y2="1071.5" stroke="#eeeeee" stroke-width="0.9"/><line x1="167.7" y1="595.2" x2="167.7" y2="1071.5" stroke="#eeeeee" stroke-width="0.9"/><line x1="296.1" y1="595.2" x2="296.1" y2="1071.5" stroke="#eeeeee" stroke-width="0.9"/><line x1="424.5" y1="595.2" x2="424.5" y2="1071.5" stroke="#eeeeee" stroke-width="0.9"/><line x1="552.9" y1="595.2" x2="552.9" y2="1071.5" stroke="#eeeeee" stroke-width="0.9"/><line x1="103.5" y1="595.2" x2="103.5" y2="1071.5" stroke="#e1e1e1" stroke-width="1.4"/><line x1="231.9" y1="595.2" x2="231.9" y2="1071.5" stroke="#e1e1e1" stroke-width="1.4"/><line x1="360.3" y1="595.2" x2="360.3" y2="1071.5" stroke="#e1e1e1" stroke-width="1.4"/><line x1="488.7" y1="595.2" x2="488.7" y2="1071.5" stroke="#e1e1e1" stroke-width="1.4"/><rect x="9.0" y="614.2" width="562.3" height="437.0" fill="#ebebeb"/><clipPath id="c2"><rect x="9.0" y="614.2" width="562.3" height="437.0"/></clipPath><polygon points="539.0,616.0 103.6,615.0 103.6,1049.5 40.0,1050.5 103.6,1051.0 104.0,895.0 106.3,893.5 108.5,892.0 110.7,890.5 114.3,889.0 119.8,887.5 122.7,885.9 127.0,884.4 129.1,882.9 134.9,881.4 129.4,880.0 128.7,878.5 130.0,877.0 129.2,875.6 130.6,874.2 130.7,872.9 139.8,871.5 132.7,870.1 133.8,868.8 133.7,867.4 134.0,866.0 134.0,864.6 135.8,863.1 136.0,861.7 144.6,860.3 138.0,858.9 139.9,857.4 141.0,856.0 143.1,854.5 142.0,853.1 144.3,851.6 142.4,850.2 151.8,848.8 148.6,847.3 149.7,845.9 148.9,844.4 152.0,843.0 150.9,841.5 154.1,840.1 152.2,838.6 158.0,837.2 155.2,835.7 158.1,834.3 158.3,832.9 156.5,831.4 158.0,830.0 162.2,828.6 171.8,827.2 163.6,825.8 172.1,824.3 168.9,822.9 169.4,821.5 170.8,820.0 171.6,818.5 177.4,816.9 177.9,815.4 178.5,813.9 198.7,812.3 189.5,810.8 187.7,809.3 185.3,807.9 185.8,806.6 178.3,805.2 175.6,803.9 176.5,802.6 173.5,801.2 174.7,799.7 176.0,798.2 177.8,796.6 189.0,795.1 179.3,793.6 179.8,792.0 182.2,790.5 181.6,789.0 182.8,787.4 187.3,785.9 191.6,784.3 201.4,782.7 200.0,781.2 210.0,779.6 201.9,778.0 203.3,776.4 191.8,774.8 200.7,773.4 202.0,772.1 218.2,770.8 220.9,769.4 215.9,768.1 226.3,766.7 220.8,765.3 203.0,764.0 195.8,762.6 204.6,761.2 203.7,759.8 218.1,758.5 230.4,757.1 232.4,755.7 226.4,754.0 202.0,752.4 204.4,750.8 215.7,749.3 215.3,747.7 215.0,746.1 222.0,744.6 230.4,743.0 230.6,741.4 214.9,739.8 214.0,738.2 220.1,736.7 219.2,735.2 241.7,733.6 228.4,732.1 245.1,730.6 246.4,729.0 255.9,727.5 262.9,726.0 254.9,724.7 240.7,723.3 222.3,722.0 228.1,720.5 230.5,718.9 250.5,717.3 250.7,715.8 254.4,714.5 264.4,713.2 270.6,711.9 275.0,710.6 298.3,709.0 263.8,707.3 254.8,705.7 261.1,704.3 275.9,702.9 285.1,701.6 297.6,700.2 303.5,698.8 280.0,697.1 250.7,695.5 264.2,694.1 250.9,692.8 263.9,691.5 288.2,690.1 273.6,688.8 271.0,687.4 294.5,685.9 306.9,684.3 312.8,682.8 332.0,681.3 283.2,679.3 308.9,677.7 317.1,676.0 328.0,674.4 311.8,672.7 295.4,671.0 302.3,669.7 306.3,668.3 322.3,667.0 289.4,665.7 318.4,664.3 323.9,663.0 335.4,661.7 368.8,660.4 385.0,659.0 405.0,657.7 403.4,656.2 391.6,654.7 351.9,653.2 318.7,651.8 314.9,650.3 305.6,648.8 331.8,647.4 350.6,646.1 393.0,644.7 367.9,643.3 364.1,642.0 323.9,640.6 360.0,639.3 432.5,637.9 441.8,636.6 409.6,635.2 390.9,633.9 364.5,632.5 377.3,631.0 395.6,629.5 410.2,627.9 429.6,626.4 453.7,625.0 443.2,623.7 466.3,622.4 506.8,621.0 500.9,619.3 510.7,617.7 539.0,616.0" fill="#d3d3d3" clip-path="url(#c2)"/><polyline points="401.0,616.3 382.8,617.0 352.3,618.3 309.6,620.3 306.9,621.9 302.3,623.6 299.5,625.2 228.4,626.4 210.0,628.5 203.2,629.8 200.7,631.2 193.8,632.5 189.8,633.9 186.3,635.2 183.9,636.5 180.0,637.9 177.6,639.2 173.5,640.6 168.9,642.1 166.2,643.6 160.8,645.0 157.3,646.5 153.0,648.0 148.3,649.4 141.5,650.9 136.2,652.3 128.8,653.7 117.2,655.4 103.6,657.0 103.6,658.4 103.6,659.9 103.6,661.3 103.6,662.8 103.6,664.2 103.6,665.7 103.6,667.1 103.6,668.6 103.6,670.0 103.6,671.5 103.6,672.9 103.6,674.4 103.6,675.8 103.6,677.3 103.6,678.7 103.6,680.2 103.6,681.6 103.6,683.1 103.6,684.5 103.6,686.0 103.6,687.4 103.6,688.9 103.6,690.3 103.6,691.8 103.6,693.2 103.6,694.7 103.6,696.1 103.6,697.6 103.6,699.0 103.6,700.5 103.6,701.9 103.6,703.4 103.6,704.8 103.6,706.2 103.6,707.7 103.6,709.1 103.6,710.6 103.6,712.0 103.6,713.5 103.6,714.9 103.6,716.4 103.6,717.8 103.6,719.3 103.6,720.7 103.6,722.2 103.6,723.6 103.6,725.1 103.6,726.5 103.6,728.0 103.6,729.4 103.6,730.9 103.6,732.3 103.6,733.8 103.6,735.2 103.6,736.7 103.6,738.1 103.6,739.6 103.6,741.0 103.6,742.5 103.6,743.9 103.6,745.4 103.6,746.8 103.6,748.3 103.6,749.7 103.6,751.2 103.6,752.6 103.6,754.1 103.6,755.5 103.6,756.9 103.6,758.4 103.6,759.8 103.6,761.3 103.6,762.7 103.6,764.2 103.6,765.6 103.6,767.1 103.6,768.5 103.6,770.0 103.6,771.4 103.6,772.9 103.6,774.3 103.6,775.8 103.6,777.2 103.6,778.7 103.6,780.1 103.6,781.6 103.6,783.0 103.6,784.5 103.6,785.9 103.6,787.4 103.6,788.8 103.6,790.3 103.6,791.7 103.6,793.2 103.6,794.6 103.6,796.1 103.6,797.5 103.6,799.0 103.6,800.4 103.6,801.9 103.6,803.3 103.6,804.8 103.6,806.2 103.6,807.6 103.6,809.1 103.6,810.5 103.6,812.0 103.6,813.4 103.6,814.9 103.6,816.3 103.6,817.8 103.6,819.2 103.6,820.7 103.6,822.1 103.6,823.6 103.6,825.0 103.6,826.5 103.6,827.9 103.6,829.4 103.6,830.8 103.6,832.3 103.6,833.7 103.6,835.2 103.6,836.6 103.6,838.1 103.6,839.5 103.6,841.0 103.6,842.4 103.6,843.9 103.6,845.3 103.6,846.8 103.6,848.2 103.6,849.7 103.6,851.1 103.6,852.6 103.6,854.0 103.6,855.4 103.6,856.9 103.6,858.3 103.6,859.8 103.6,861.2 103.6,862.7 103.6,864.1 103.6,865.6 103.6,867.0 103.6,868.5 103.6,869.9 103.6,871.4 103.6,872.8 103.6,874.3 103.6,875.7 103.6,877.2 103.6,878.6 103.6,880.1 103.6,881.5 103.6,883.0 103.6,884.4 103.6,885.9 103.6,887.3 103.6,888.8 103.6,890.2 103.6,891.7 103.6,893.1 103.6,894.6 103.6,896.0 103.6,897.5 103.6,898.9 103.6,900.4 103.6,901.8 103.6,903.2 103.6,904.7 103.6,906.1 103.6,907.6 103.6,909.0 103.6,910.5 103.6,911.9 103.6,913.4 103.6,914.8 103.6,916.3 103.6,917.7 103.6,919.2 103.6,920.6 103.6,922.1 103.6,923.5 103.6,925.0 103.6,926.4 103.6,927.9 103.6,929.3 103.6,930.8 103.6,932.2 103.6,933.7 103.6,935.1 103.6,936.6 103.6,938.0 103.6,939.5 103.6,940.9 103.6,942.4 103.6,943.8 103.6,945.3 103.6,946.7 103.6,948.2 103.6,949.6 103.6,951.1 103.6,952.5 103.6,953.9 103.6,955.4 103.6,956.8 103.6,958.3 103.6,959.7 103.6,961.2 103.6,962.6 103.6,964.1 103.6,965.5 103.6,967.0 103.6,968.4 103.6,969.9 103.6,971.3 103.6,972.8 103.6,974.2 103.6,975.7 103.6,977.1 103.6,978.6 103.6,980.0 103.6,981.5 103.6,982.9 103.6,984.4 103.6,985.8 103.6,987.3 103.6,988.7 103.6,990.2 103.6,991.6 103.6,993.1 103.6,994.5 103.6,996.0 103.6,997.4 103.6,998.9 103.6,1000.3 103.6,1001.8 103.6,1003.2 103.6,1004.6 103.6,1006.1 103.6,1007.5 103.6,1009.0 103.6,1010.4 103.6,1011.9 103.6,1013.3 103.6,1014.8 103.6,1016.2 103.6,1017.7 103.6,1019.1 103.6,1020.6 103.6,1022.0 103.6,1023.5 103.6,1024.9 103.6,1026.4 103.6,1027.8 103.6,1029.3 103.6,1030.7 103.6,1032.2 103.6,1033.6 103.6,1035.1 103.6,1036.5 103.6,1038.0 103.6,1039.4 103.6,1040.9 103.6,1042.3 103.6,1043.8 103.6,1045.2 103.6,1046.7 103.6,1048.1 103.6,1049.6 103.6,1051.0" fill="none" stroke="#8b0000" stroke-width="4.3" stroke-linejoin="round" stroke-linecap="round" marker-start="url(#rd)" marker-mid="url(#rd)" marker-end="url(#rd)"/><polyline points="382.8,617.0 352.3,618.3 307.6,620.3 302.9,621.9 300.8,623.6 299.5,625.2 228.4,626.4 215.7,627.8 210.0,629.3 209.6,630.6 201.9,631.9 199.8,633.2 193.8,634.5 222.3,636.6 194.8,638.0 181.6,639.4 185.7,640.9 192.4,642.5 194.0,644.0 197.9,645.5 186.6,647.1 159.3,648.8 167.3,650.2 167.0,651.6 168.0,652.9 179.5,654.3 181.6,655.7 160.6,657.4 153.0,659.0 150.6,660.4 151.2,661.8 150.3,663.2 149.0,664.6 148.1,666.0 145.1,667.4 143.6,668.8 142.5,670.2 143.4,671.6 141.0,673.0 139.4,674.5 138.5,676.0 137.4,677.5 136.5,679.0 135.5,680.5 135.2,681.9 133.9,683.4 133.2,684.9 133.4,686.4 131.1,687.9 130.8,689.4 130.6,690.8 130.1,692.3 129.4,693.7 129.0,695.1 128.7,696.6 128.0,698.0 127.2,699.4 126.8,700.9 126.3,702.3 125.9,703.8 126.0,705.2 125.0,706.6 124.2,708.1 124.1,709.5 124.0,710.9 123.1,712.4 122.7,713.8 122.5,715.2 121.8,716.6 121.5,718.1 121.6,719.5 120.9,720.9 120.7,722.3 120.5,723.8 120.0,725.2 119.6,726.6 119.3,728.0 119.7,729.5 119.2,730.9 119.1,732.3 118.4,733.8 118.4,735.2 118.1,736.6 117.6,738.0 117.2,739.4 116.9,740.9 116.6,742.3 116.2,743.8 116.1,745.3 116.2,746.7 115.6,748.2 115.9,749.7 115.5,751.2 115.4,752.6 115.3,754.1 115.0,755.6 114.5,757.1 114.4,758.5 114.0,760.0 113.8,761.5 114.3,763.0 113.9,764.5 113.9,765.9 113.6,767.4 113.1,768.9 113.4,770.4 113.2,771.8 112.7,773.3 112.5,774.8 112.1,776.2 112.1,777.7 111.9,779.1 111.9,780.5 111.6,782.0 111.9,783.4 112.0,784.8 111.4,786.3 111.6,787.7 111.4,789.2 111.2,790.6 111.4,792.0 110.9,793.5 111.1,794.9 110.4,796.3 110.9,797.8 110.3,799.2 110.0,800.6 110.5,802.1 110.3,803.5 110.2,804.9 110.1,806.4 109.7,807.8 109.4,809.2 109.4,810.7 109.8,812.1 109.7,813.6 109.0,815.0 109.0,816.4 108.9,817.9 109.1,819.3 108.4,820.7 108.8,822.2 108.5,823.6 108.3,825.0 108.4,826.5 108.0,827.9 107.9,829.4 108.4,830.8 108.1,832.3 108.3,833.7 108.2,835.1 108.0,836.6 107.5,838.0 107.7,839.5 107.9,840.9 107.5,842.4 107.1,843.8 107.2,845.2 107.6,846.7 107.6,848.1 107.0,849.6 106.9,851.0 107.2,852.5 106.9,853.9 106.6,855.3 107.1,856.8 106.8,858.2 106.5,859.7 106.2,861.1 106.5,862.6 106.4,864.0 106.5,865.4 106.0,866.9 105.9,868.3 106.2,869.8 106.3,871.2 105.8,872.6 105.8,874.1 105.9,875.5 105.7,877.0 105.3,878.4 105.4,879.8 105.2,881.3 105.1,882.7 105.0,884.2 105.1,885.6 104.9,887.0 105.3,888.5 104.8,889.9 105.2,891.4 105.0,892.8 104.6,894.2 104.4,895.7 104.6,897.1 104.5,898.6 104.4,900.0 104.4,901.4 104.1,902.9 104.4,904.3 104.5,905.8 104.3,907.2 104.2,908.7 104.6,910.1 104.2,911.6 104.7,913.0 104.4,914.5 103.9,915.9 104.2,917.3 104.0,918.8 104.5,920.2 104.2,921.7 104.0,923.1 104.5,924.6 104.4,926.0 104.3,927.5 104.2,928.9 103.9,930.4 104.5,931.8 104.0,933.2 104.2,934.7 104.1,936.1 104.1,937.6 103.8,939.0 104.4,940.5 104.1,941.9 104.0,943.4 104.3,944.8 104.3,946.3 104.2,947.7 104.3,949.1 103.9,950.6 103.8,952.0 103.9,953.5 104.1,954.9 104.2,956.4 104.2,957.8 104.1,959.3 104.1,960.7 104.1,962.2 104.0,963.6 103.6,965.0 104.0,966.5 103.8,967.9 103.6,969.4 104.0,970.8 104.1,972.3 103.7,973.7 104.0,975.2 104.0,976.6 104.0,978.1 104.1,979.5 104.0,981.0 103.5,982.4 103.9,983.8 103.7,985.3 103.7,986.7 103.9,988.2 103.6,989.6 103.9,991.1 104.1,992.5 103.5,994.0 104.0,995.4 103.9,996.9 103.7,998.3 103.9,999.7 103.4,1001.2 103.5,1002.6 104.0,1004.1 103.8,1005.5 103.4,1007.0 103.4,1008.4 103.6,1009.9 103.7,1011.3 104.0,1012.8 103.4,1014.2 103.7,1015.6 103.6,1017.1 103.6,1018.5 103.9,1020.0 103.3,1021.4 103.8,1022.9 103.7,1024.3 103.4,1025.8 103.3,1027.2 103.7,1028.7 103.8,1030.1 103.4,1031.5 103.2,1033.0 103.5,1034.4 103.6,1035.9 103.4,1037.3 103.4,1038.8 103.2,1040.2 103.2,1041.7 103.2,1043.1 103.6,1044.6 103.4,1046.0 103.1,1047.4 103.2,1048.8 103.4,1050.1 103.4,1051.5 98.6,1050.4" fill="none" stroke="#000" stroke-width="1.5" stroke-linejoin="round" marker-start="url(#bd)" marker-mid="url(#bd)" marker-end="url(#bd)"/><line x1="6.8" y1="595.2" x2="571.7" y2="595.2" stroke="#858585" stroke-width="1.1"/><line x1="571.7" y1="595.2" x2="571.7" y2="1071.5" stroke="#a6a6a6" stroke-width="1.3"/><line x1="6.8" y1="595.2" x2="6.8" y2="1072.2" stroke="#3a3a3a" stroke-width="1.4"/><line x1="6.1" y1="1071.5" x2="571.7" y2="1071.5" stroke="#3a3a3a" stroke-width="1.2"/><rect x="0.3" y="615.2" width="6.1" height="436.0" fill="#2b2b2b"/><rect x="0.3" y="622.6" width="6.1" height="1.1" fill="#7d7d7d"/><rect x="0.3" y="638.5" width="6.1" height="1.1" fill="#7d7d7d"/><rect x="0.3" y="652.2" width="6.1" height="1.1" fill="#7d7d7d"/><rect x="0.3" y="667.1" width="6.1" height="1.1" fill="#7d7d7d"/><rect x="0.3" y="683.4" width="6.1" height="1.1" fill="#7d7d7d"/><rect x="0.3" y="688.2" width="6.1" height="1" fill="#6a6a6a"/><rect x="0.3" y="697.8" width="6.1" height="1.1" fill="#7d7d7d"/><rect x="0.3" y="712.1" width="6.1" height="1.1" fill="#7d7d7d"/><rect x="0.3" y="728.3" width="6.1" height="1.1" fill="#7d7d7d"/><rect x="0.3" y="741.2" width="6.1" height="1.1" fill="#7d7d7d"/><rect x="0.3" y="756.5" width="6.1" height="1.1" fill="#7d7d7d"/><rect x="0.3" y="772.9" width="6.1" height="1.1" fill="#7d7d7d"/><rect x="0.3" y="787.9" width="6.1" height="1.1" fill="#7d7d7d"/><rect x="0.3" y="803.1" width="6.1" height="1.1" fill="#7d7d7d"/><rect x="0.3" y="816.3" width="6.1" height="1.1" fill="#7d7d7d"/><rect x="0.3" y="831.8" width="6.1" height="1.1" fill="#7d7d7d"/><rect x="0.3" y="846.9" width="6.1" height="1.1" fill="#7d7d7d"/><rect x="0.3" y="861.3" width="6.1" height="1.1" fill="#7d7d7d"/><rect x="0.3" y="876.1" width="6.1" height="1.1" fill="#7d7d7d"/><rect x="0.3" y="880.9" width="6.1" height="1" fill="#6a6a6a"/><rect x="0.3" y="892.2" width="6.1" height="1.1" fill="#7d7d7d"/><rect x="0.3" y="907.5" width="6.1" height="1.1" fill="#7d7d7d"/><rect x="0.3" y="921.3" width="6.1" height="1.1" fill="#7d7d7d"/><rect x="0.3" y="935.2" width="6.1" height="1.1" fill="#7d7d7d"/><rect x="0.3" y="950.9" width="6.1" height="1.1" fill="#7d7d7d"/><rect x="0.3" y="955.7" width="6.1" height="1" fill="#6a6a6a"/><rect x="0.3" y="965.2" width="6.1" height="1.1" fill="#7d7d7d"/><rect x="0.3" y="980.2" width="6.1" height="1.1" fill="#7d7d7d"/><rect x="0.3" y="996.0" width="6.1" height="1.1" fill="#7d7d7d"/><rect x="0.3" y="1009.7" width="6.1" height="1.1" fill="#7d7d7d"/><rect x="0.3" y="1024.9" width="6.1" height="1.1" fill="#7d7d7d"/><rect x="0.3" y="1039.7" width="6.1" height="1.1" fill="#7d7d7d"/><line x1="103.5" y1="1071.5" x2="103.5" y2="1077.5" stroke="#222" stroke-width="1.5"/><text x="103.1" y="1094.3" class="tl">0.0</text><line x1="231.9" y1="1071.5" x2="231.9" y2="1077.5" stroke="#222" stroke-width="1.5"/><text x="231.5" y="1094.3" class="tl">0.1</text><line x1="360.3" y1="1071.5" x2="360.3" y2="1077.5" stroke="#222" stroke-width="1.5"/><text x="359.9" y="1094.3" class="tl">0.2</text><line x1="488.7" y1="1071.5" x2="488.7" y2="1077.5" stroke="#222" stroke-width="1.5"/><text x="488.3" y="1094.3" class="tl">0.3</text><text x="139.2" y="582.6" class="tt" textLength="345.2" lengthAdjust="spacingAndGlyphs">Subthreshold Depression</text></g>
<g><line x1="724.7" y1="595.2" x2="724.7" y2="1071.5" stroke="#eeeeee" stroke-width="0.9"/><line x1="896.4" y1="595.2" x2="896.4" y2="1071.5" stroke="#eeeeee" stroke-width="0.9"/><line x1="1067.9" y1="595.2" x2="1067.9" y2="1071.5" stroke="#eeeeee" stroke-width="0.9"/><line x1="638.9" y1="595.2" x2="638.9" y2="1071.5" stroke="#e1e1e1" stroke-width="1.4"/><line x1="810.6" y1="595.2" x2="810.6" y2="1071.5" stroke="#e1e1e1" stroke-width="1.4"/><line x1="982.2" y1="595.2" x2="982.2" y2="1071.5" stroke="#e1e1e1" stroke-width="1.4"/><line x1="1153.6" y1="595.2" x2="1153.6" y2="1071.5" stroke="#e1e1e1" stroke-width="1.4"/><rect x="616.5" y="614.2" width="562.6" height="437.0" fill="#ebebeb"/><clipPath id="c3"><rect x="616.5" y="614.2" width="562.6" height="437.0"/></clipPath><polygon points="1141.0,617.0 639.0,615.0 639.0,1051.0 639.0,805.0 639.9,803.6 640.8,802.2 642.0,800.8 642.7,799.4 643.8,798.0 648.2,796.3 653.6,794.7 658.3,793.0 655.5,791.7 652.0,790.5 648.6,789.2 653.6,787.8 657.4,786.5 662.5,785.1 666.7,783.8 670.3,782.4 666.2,780.9 662.6,779.3 657.3,777.8 652.4,776.2 648.6,774.7 665.8,773.1 676.2,771.6 687.2,770.0 667.5,768.5 691.1,767.1 692.0,765.6 696.7,764.1 696.2,762.7 699.2,761.2 701.8,759.7 705.8,758.3 704.0,756.8 703.4,755.4 708.3,753.9 714.3,752.5 715.7,751.0 711.9,749.6 717.9,748.2 721.3,746.7 717.0,745.3 722.9,743.8 723.4,742.4 718.9,740.9 727.5,739.4 727.5,737.9 730.8,736.3 735.5,734.8 732.0,733.3 733.4,731.8 737.9,730.3 739.6,728.8 744.1,727.3 747.3,725.8 777.5,724.2 753.3,722.7 756.7,721.2 754.7,719.7 759.6,718.2 758.0,716.8 752.8,715.3 757.6,713.9 768.0,712.4 764.1,711.0 773.3,709.6 769.1,708.1 775.9,706.7 772.4,705.2 774.0,703.8 777.8,702.3 773.6,700.9 780.5,699.4 769.4,698.0 780.0,696.5 778.1,695.1 775.1,693.6 783.5,692.2 773.5,690.8 783.7,689.3 780.9,687.8 788.1,686.3 794.9,684.8 809.8,683.2 805.2,681.7 794.9,680.2 797.1,678.7 803.0,677.2 803.8,675.8 817.1,674.3 825.0,672.9 828.1,671.4 839.0,670.0 840.5,668.5 835.7,667.1 821.7,665.6 815.7,664.2 812.7,662.7 828.2,661.1 848.2,659.6 856.0,658.0 854.1,656.5 863.7,655.1 894.2,653.6 874.1,652.2 894.7,650.7 875.3,649.1 872.5,647.4 846.5,645.8 854.6,644.4 861.3,642.9 870.2,641.5 879.7,640.0 861.3,638.6 882.6,637.2 893.9,635.7 892.9,634.3 885.1,632.8 899.6,631.4 914.7,629.9 945.0,628.4 935.8,627.0 965.2,625.5 981.6,624.0 1024.7,622.8 1005.4,621.5 1054.0,620.3 1105.5,618.6 1141.0,617.0" fill="#d3d3d3" clip-path="url(#c3)"/><polyline points="764.6,616.6 639.0,618.4 639.0,619.9 639.0,621.3 639.0,622.8 639.0,624.2 639.0,625.7 639.0,627.1 639.0,628.6 639.0,630.0 639.0,631.5 639.0,632.9 639.0,634.4 639.0,635.8 639.0,637.3 639.0,638.7 639.0,640.2 639.0,641.6 639.0,643.1 639.0,644.5 639.0,646.0 639.0,647.4 639.0,648.9 639.0,650.3 639.0,651.8 639.0,653.2 639.0,654.7 639.0,656.1 639.0,657.6 639.0,659.0 639.0,660.5 639.0,661.9 639.0,663.4 639.0,664.8 639.0,666.3 639.0,667.7 639.0,669.2 639.0,670.6 639.0,672.1 639.0,673.5 639.0,675.0 639.0,676.4 639.0,677.9 639.0,679.3 639.0,680.8 639.0,682.2 639.0,683.7 639.0,685.1 639.0,686.6 639.0,688.0 639.0,689.5 639.0,690.9 639.0,692.4 639.0,693.8 639.0,695.3 639.0,696.7 639.0,698.2 639.0,699.6 639.0,701.1 639.0,702.5 639.0,704.0 639.0,705.4 639.0,706.9 639.0,708.3 639.0,709.8 639.0,711.2 639.0,712.7 639.0,714.1 639.0,715.6 639.0,717.0 639.0,718.5 639.0,719.9 639.0,721.4 639.0,722.8 639.0,724.3 639.0,725.7 639.0,727.2 639.0,728.6 639.0,730.1 639.0,731.5 639.0,733.0 639.0,734.4 639.0,735.9 639.0,737.3 639.0,738.8 639.0,740.2 639.0,741.7 639.0,743.1 639.0,744.6 639.0,746.0 639.0,747.5 639.0,748.9 639.0,750.4 639.0,751.8 639.0,753.3 639.0,754.7 639.0,756.2 639.0,757.6 639.0,759.1 639.0,760.5 639.0,762.0 639.0,763.4 639.0,764.9 639.0,766.3 639.0,767.8 639.0,769.2 639.0,770.7 639.0,772.1 639.0,773.6 639.0,775.0 639.0,776.5 639.0,777.9 639.0,779.4 639.0,780.8 639.0,782.3 639.0,783.7 639.0,785.2 639.0,786.6 639.0,788.1 639.0,789.5 639.0,791.0 639.0,792.4 639.0,793.9 639.0,795.3 639.0,796.8 639.0,798.2 639.0,799.7 639.0,801.1 639.0,802.6 639.0,804.0 639.0,805.5 639.0,806.9 639.0,808.4 639.0,809.8 639.0,811.3 639.0,812.7 639.0,814.2 639.0,815.6 639.0,817.1 639.0,818.5 639.0,820.0 639.0,821.4 639.0,822.9 639.0,824.3 639.0,825.8 639.0,827.2 639.0,828.7 639.0,830.1 639.0,831.6 639.0,833.0 639.0,834.5 639.0,835.9 639.0,837.4 639.0,838.8 639.0,840.3 639.0,841.7 639.0,843.2 639.0,844.6 639.0,846.1 639.0,847.5 639.0,849.0 639.0,850.4 639.0,851.9 639.0,853.3 639.0,854.8 639.0,856.2 639.0,857.7 639.0,859.1 639.0,860.6 639.0,862.0 639.0,863.5 639.0,864.9 639.0,866.4 639.0,867.8 639.0,869.3 639.0,870.7 639.0,872.2 639.0,873.6 639.0,875.1 639.0,876.5 639.0,878.0 639.0,879.4 639.0,880.9 639.0,882.3 639.0,883.8 639.0,885.2 639.0,886.7 639.0,888.1 639.0,889.6 639.0,891.0 639.0,892.5 639.0,893.9 639.0,895.4 639.0,896.8 639.0,898.3 639.0,899.7 639.0,901.2 639.0,902.6 639.0,904.1 639.0,905.5 639.0,907.0 639.0,908.4 639.0,909.9 639.0,911.3 639.0,912.8 639.0,914.2 639.0,915.7 639.0,917.1 639.0,918.6 639.0,920.0 639.0,921.5 639.0,922.9 639.0,924.4 639.0,925.8 639.0,927.3 639.0,928.7 639.0,930.2 639.0,931.6 639.0,933.1 639.0,934.5 639.0,936.0 639.0,937.4 639.0,938.9 639.0,940.3 639.0,941.8 639.0,943.2 639.0,944.7 639.0,946.1 639.0,947.6 639.0,949.0 639.0,950.5 639.0,951.9 639.0,953.4 639.0,954.8 639.0,956.3 639.0,957.7 639.0,959.2 639.0,960.6 639.0,962.1 639.0,963.5 639.0,965.0 639.0,966.4 639.0,967.9 639.0,969.3 639.0,970.8 639.0,972.2 639.0,973.7 639.0,975.1 639.0,976.6 639.0,978.0 639.0,979.5 639.0,980.9 639.0,982.4 639.0,983.8 639.0,985.3 639.0,986.7 639.0,988.2 639.0,989.6 639.0,991.1 639.0,992.5 639.0,994.0 639.0,995.4 639.0,996.9 639.0,998.3 639.0,999.8 639.0,1001.2 639.0,1002.7 639.0,1004.1 639.0,1005.6 639.0,1007.0 639.0,1008.5 639.0,1009.9 639.0,1011.4 639.0,1012.8 639.0,1014.3 639.0,1015.7 639.0,1017.2 639.0,1018.6 639.0,1020.1 639.0,1021.5 639.0,1023.0 639.0,1024.4 639.0,1025.9 639.0,1027.3 639.0,1028.8 639.0,1030.2 639.0,1031.7 639.0,1033.1 639.0,1034.6 639.0,1036.0 639.0,1037.5 639.0,1038.9 639.0,1040.4 639.0,1041.8 639.0,1043.3 639.0,1044.7 639.0,1046.2 639.0,1047.6 639.0,1049.1 639.0,1050.5 639.0,1052.0" fill="none" stroke="#8b0000" stroke-width="4.3" stroke-linejoin="round" stroke-linecap="round" marker-start="url(#rd)" marker-mid="url(#rd)" marker-end="url(#rd)"/><polyline points="837.0,616.6 747.5,618.3 736.4,620.3 730.8,621.8 723.4,623.2 718.1,624.6 713.6,626.1 701.7,627.5 694.5,628.8 693.7,630.1 691.4,631.5 682.4,632.8 682.0,634.2 676.0,635.7 675.9,637.1 672.7,638.6 670.3,639.9 666.3,641.2 663.0,642.5 663.1,643.9 662.6,645.3 662.3,646.7 662.5,648.1 662.0,649.5 661.6,651.0 661.4,652.4 661.3,653.8 660.8,655.2 661.0,656.6 660.7,658.0 660.3,659.4 659.1,660.9 659.0,662.3 658.4,663.8 657.1,665.2 656.6,666.6 655.0,668.1 654.2,669.5 654.8,671.0 653.4,672.4 653.1,673.8 652.9,675.2 653.3,676.7 653.0,678.1 652.4,679.5 652.4,680.9 652.2,682.3 652.1,683.7 651.8,685.2 652.0,686.6 651.7,688.0 651.6,689.4 651.3,690.8 651.2,692.2 651.0,693.7 651.4,695.1 651.0,696.5 651.0,697.9 650.7,699.4 650.2,700.8 650.0,702.2 649.8,703.6 649.8,705.1 649.4,706.5 649.4,707.9 649.2,709.3 649.0,710.8 649.2,712.2 648.8,713.6 648.7,715.0 648.4,716.5 648.4,717.9 648.4,719.3 647.8,720.7 647.5,722.2 647.6,723.6 647.4,725.0 647.5,726.4 646.8,727.9 647.2,729.3 646.4,730.7 646.6,732.1 646.3,733.6 646.2,735.0 646.0,736.5 646.3,737.9 646.0,739.4 645.6,740.9 645.7,742.3 645.7,743.8 645.2,745.3 645.1,746.7 645.3,748.2 645.3,749.7 645.0,751.1 644.9,752.6 644.9,754.1 644.6,755.5 644.9,757.0 644.9,758.5 644.4,759.9 644.0,761.4 644.2,762.9 644.4,764.3 643.9,765.8 643.7,767.3 643.6,768.7 643.9,770.2 643.7,771.7 643.4,773.1 643.5,774.6 643.5,776.1 643.5,777.5 643.3,779.0 643.0,780.5 643.1,781.9 642.8,783.4 643.0,784.9 642.9,786.3 642.7,787.8 642.5,789.3 642.3,790.7 642.5,792.2 642.2,793.6 642.2,795.1 641.7,796.6 641.6,798.0 641.6,799.5 641.7,801.0 641.6,802.4 641.2,803.9 641.1,805.4 641.6,806.8 640.9,808.3 641.4,809.8 641.2,811.2 640.9,812.7 641.1,814.1 640.8,815.6 640.2,817.1 640.8,818.5 640.4,820.0 640.3,821.5 640.6,822.9 640.5,824.4 640.0,825.9 639.9,827.3 639.9,828.8 640.4,830.2 640.4,831.7 639.9,833.2 639.8,834.6 640.0,836.1 640.3,837.6 640.2,839.0 640.2,840.5 640.3,842.0 640.1,843.4 640.1,844.9 639.5,846.3 639.5,847.8 640.1,849.3 639.9,850.7 639.6,852.2 639.5,853.7 639.6,855.1 639.6,856.6 639.6,858.0 639.6,859.5 639.4,861.0 639.3,862.4 639.3,863.9 639.2,865.4 639.2,866.8 639.4,868.3 639.1,869.8 639.6,871.2 639.4,872.7 639.3,874.1 639.4,875.6 639.1,877.1 638.9,878.5 639.2,880.0 638.9,881.4 639.1,882.9 639.1,884.3 639.0,885.8 639.1,887.2 639.4,888.7 638.8,890.1 639.2,891.6 639.1,893.0 639.0,894.5 639.3,895.9 639.0,897.4 638.9,898.8 638.9,900.3 639.5,901.7 639.1,903.2 638.9,904.6 639.5,906.1 639.3,907.5 639.5,909.0 639.0,910.4 639.4,911.9 638.8,913.3 639.0,914.8 639.4,916.2 639.2,917.7 639.4,919.1 639.1,920.6 639.4,922.0 638.9,923.5 639.2,924.9 638.9,926.4 638.9,927.8 639.4,929.3 639.1,930.7 639.4,932.2 639.0,933.6 639.3,935.1 639.4,936.5 639.2,938.0 638.9,939.4 639.2,940.9 639.4,942.3 639.3,943.8 639.1,945.2 639.1,946.7 638.8,948.1 639.3,949.6 638.9,951.0 638.9,952.5 638.8,953.9 638.9,955.4 639.0,956.8 639.1,958.3 638.9,959.7 639.1,961.2 639.3,962.6 638.8,964.1 638.8,965.5 639.1,967.0 639.4,968.4 639.4,969.9 639.1,971.3 638.8,972.8 639.4,974.2 639.4,975.7 639.4,977.1 639.1,978.6 639.0,980.0 639.1,981.5 639.3,982.9 639.4,984.4 639.1,985.8 639.1,987.3 638.9,988.7 639.1,990.2 639.1,991.6 638.9,993.1 639.0,994.5 639.4,996.0 638.9,997.4 638.9,998.9 638.9,1000.3 639.3,1001.8 638.9,1003.2 639.3,1004.7 639.4,1006.1 639.3,1007.6 639.3,1009.0 638.8,1010.5 639.0,1011.9 639.3,1013.4 638.9,1014.8 639.1,1016.3 639.3,1017.7 639.3,1019.2 638.9,1020.6 638.8,1022.1 638.7,1023.5 638.9,1025.0 639.1,1026.4 638.9,1027.9 639.3,1029.3 639.1,1030.8 639.1,1032.2 639.3,1033.7 638.9,1035.1 639.1,1036.6 638.9,1038.0 638.9,1039.5 638.7,1040.9 639.2,1042.4 639.3,1043.8 638.7,1045.3 639.2,1046.7 638.7,1048.2 638.9,1049.6 638.9,1051.1 639.0,1052.5" fill="none" stroke="#000" stroke-width="1.5" stroke-linejoin="round" marker-start="url(#bd)" marker-mid="url(#bd)" marker-end="url(#bd)"/><line x1="614.3" y1="595.2" x2="1179.5" y2="595.2" stroke="#858585" stroke-width="1.1"/><line x1="1179.5" y1="595.2" x2="1179.5" y2="1071.5" stroke="#a6a6a6" stroke-width="1.3"/><line x1="614.3" y1="595.2" x2="614.3" y2="1072.2" stroke="#3a3a3a" stroke-width="1.4"/><line x1="613.6" y1="1071.5" x2="1179.5" y2="1071.5" stroke="#3a3a3a" stroke-width="1.2"/><rect x="607.8" y="615.2" width="6.1" height="436.0" fill="#2b2b2b"/><rect x="607.8" y="622.3" width="6.1" height="1.1" fill="#7d7d7d"/><rect x="607.8" y="638.5" width="6.1" height="1.1" fill="#7d7d7d"/><rect x="607.8" y="652.5" width="6.1" height="1.1" fill="#7d7d7d"/><rect x="607.8" y="668.5" width="6.1" height="1.1" fill="#7d7d7d"/><rect x="607.8" y="682.3" width="6.1" height="1.1" fill="#7d7d7d"/><rect x="607.8" y="697.5" width="6.1" height="1.1" fill="#7d7d7d"/><rect x="607.8" y="711.7" width="6.1" height="1.1" fill="#7d7d7d"/><rect x="607.8" y="728.5" width="6.1" height="1.1" fill="#7d7d7d"/><rect x="607.8" y="741.8" width="6.1" height="1.1" fill="#7d7d7d"/><rect x="607.8" y="757.6" width="6.1" height="1.1" fill="#7d7d7d"/><rect x="607.8" y="762.4" width="6.1" height="1" fill="#6a6a6a"/><rect x="607.8" y="772.3" width="6.1" height="1.1" fill="#7d7d7d"/><rect x="607.8" y="786.3" width="6.1" height="1.1" fill="#7d7d7d"/><rect x="607.8" y="801.1" width="6.1" height="1.1" fill="#7d7d7d"/><rect x="607.8" y="815.9" width="6.1" height="1.1" fill="#7d7d7d"/><rect x="607.8" y="832.9" width="6.1" height="1.1" fill="#7d7d7d"/><rect x="607.8" y="847.9" width="6.1" height="1.1" fill="#7d7d7d"/><rect x="607.8" y="861.9" width="6.1" height="1.1" fill="#7d7d7d"/><rect x="607.8" y="876.9" width="6.1" height="1.1" fill="#7d7d7d"/><rect x="607.8" y="881.7" width="6.1" height="1" fill="#6a6a6a"/><rect x="607.8" y="891.6" width="6.1" height="1.1" fill="#7d7d7d"/><rect x="607.8" y="905.5" width="6.1" height="1.1" fill="#7d7d7d"/><rect x="607.8" y="910.3" width="6.1" height="1" fill="#6a6a6a"/><rect x="607.8" y="922.1" width="6.1" height="1.1" fill="#7d7d7d"/><rect x="607.8" y="935.4" width="6.1" height="1.1" fill="#7d7d7d"/><rect x="607.8" y="950.3" width="6.1" height="1.1" fill="#7d7d7d"/><rect x="607.8" y="965.9" width="6.1" height="1.1" fill="#7d7d7d"/><rect x="607.8" y="970.7" width="6.1" height="1" fill="#6a6a6a"/><rect x="607.8" y="981.6" width="6.1" height="1.1" fill="#7d7d7d"/><rect x="607.8" y="986.4" width="6.1" height="1" fill="#6a6a6a"/><rect x="607.8" y="995.2" width="6.1" height="1.1" fill="#7d7d7d"/><rect x="607.8" y="1000.0" width="6.1" height="1" fill="#6a6a6a"/><rect x="607.8" y="1011.2" width="6.1" height="1.1" fill="#7d7d7d"/><rect x="607.8" y="1016.0" width="6.1" height="1" fill="#6a6a6a"/><rect x="607.8" y="1025.6" width="6.1" height="1.1" fill="#7d7d7d"/><rect x="607.8" y="1030.4" width="6.1" height="1" fill="#6a6a6a"/><rect x="607.8" y="1040.4" width="6.1" height="1.1" fill="#7d7d7d"/><line x1="638.9" y1="1071.5" x2="638.9" y2="1077.5" stroke="#222" stroke-width="1.5"/><text x="638.5" y="1094.3" class="tl">0.0</text><line x1="810.6" y1="1071.5" x2="810.6" y2="1077.5" stroke="#222" stroke-width="1.5"/><text x="810.2" y="1094.3" class="tl">0.1</text><line x1="982.2" y1="1071.5" x2="982.2" y2="1077.5" stroke="#222" stroke-width="1.5"/><text x="981.8" y="1094.3" class="tl">0.2</text><line x1="1153.6" y1="1071.5" x2="1153.6" y2="1077.5" stroke="#222" stroke-width="1.5"/><text x="1153.2" y="1094.3" class="tl">0.3</text><text x="775.5" y="582.6" class="tt" textLength="211.3" lengthAdjust="spacingAndGlyphs">Healthy Control</text></g>
</svg>
</body></html>
